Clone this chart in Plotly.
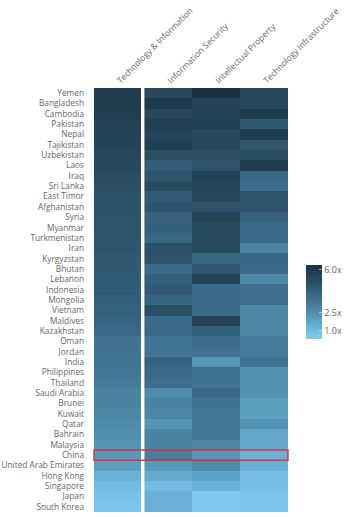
import plotly.graph_objects as go

countries = ["Yemen", "Bangladesh", "Cambodia", "Pakistan", "Nepal", "Tajikistan", "Uzbekistan",
             "Laos", "Iraq", "Sri Lanka", "East Timor", "Afghanistan", "Syria", "Myanmar",
             "Turkmenistan", "Iran", "Kyrgyzstan", "Bhutan", "Lebanon", "Indonesia", "Mongolia",
             "Vietnam", "Maldives", "Kazakhstan", "Oman", "Jordan", "India", "Philippines",
             "Thailand", "Saudi Arabia", "Brunei", "Kuwait", "Qatar", "Bahrain", "Malaysia",
             "China", "United Arab Emirates", "Hong Kong", "Singapore", "Japan", "South Korea"]

tech_info = [5.95, 5.9, 5.85, 5.6, 5.55, 5.5, 5.3, 5.25, 5.05, 5.0, 4.9, 4.85, 4.8, 4.8,
             4.75, 4.7, 4.6, 4.55, 4.5, 4.45, 4.3, 4.25, 4.1, 3.9, 3.5, 3.45, 3.4, 3.35,
             3.2, 2.95, 2.9, 2.75, 2.6, 2.45, 2.25, 2.1, 1.9, 1.3, 0.9, 0.7, 0.55]

info_security = [5.3, 6.0, 5.4, 5.8, 5.5, 5.7, 5.0, 4.4, 4.7, 5.1, 4.5, 4.7, 4.2, 4.3,
                 4.0, 4.9, 4.8, 3.8, 4.3, 4.5, 4.1, 5.0, 3.8, 3.9, 3.4, 3.4, 4.2, 3.9,
                 3.7, 2.6, 2.9, 2.8, 2.2, 2.9, 2.9, 3.1, 2.0, 1.5, 0.9, 1.3, 1.3]

intellectual_property = [6.4, 5.6, 5.6, 5.7, 5.2, 5.3, 5.0, 4.8, 5.6, 5.4, 5.3, 4.8, 5.5, 5.2,
                         5.2, 5.2, 4.0, 4.6, 5.6, 3.9, 3.9, 3.8, 5.5, 4.3, 3.7, 3.5, 2.2, 3.5,
                         3.5, 3.9, 3.5, 3.3, 3.3, 3.3, 2.8, 2.2, 2.6, 1.8, 1.3, 0.4, 0.4]

tech_infrastructure = [5.3, 5.3, 6.0, 4.6, 5.8, 4.7, 5.1, 5.9, 4.0, 3.8, 4.7, 4.8, 4.2, 3.9,
                       3.9, 2.9, 4.0, 3.8, 2.7, 3.6, 3.6, 2.8, 2.8, 2.8, 3.2, 3.2, 3.5, 2.3,
                       2.3, 2.3, 1.9, 1.9, 2.3, 1.6, 1.6, 1.3, 1.3, 0.8, 0.8, 0.6, 0.5]

col1_label = ["Technology & Information"]
other_labels = ["Information Security", "Intellectual Property", "Technology Infrastructure"]

cbar_ticks = [1.0, 2.5, 6.0]
cbar_text = ["1.0x", "2.5x", "6.0x"]
highlight = "China"

zmin, zmax = 0.3, 6.4
cscale = [[0, "#80cdf1"], [0.16, "#6ab2d8"], [0.31, "#5595b5"], [0.43, "#4a83a1"],
          [0.53, "#3f728e"], [0.66, "#33607a"], [0.74, "#2d5268"], [0.82, "#27485c"],
          [0.93, "#1f3b4d"], [1, "#1b3142"]]

font_fam = "Open Sans"
grey = "#666666"

fig = go.Figure()
fig.add_trace(go.Heatmap(
    z=[[v] for v in tech_info], x=col1_label, y=countries,
    colorscale=cscale, zmin=zmin, zmax=zmax, showscale=False,
    xaxis="x", yaxis="y", hoverongaps=False))
fig.add_trace(go.Heatmap(
    z=[list(r) for r in zip(info_security, intellectual_property, tech_infrastructure)],
    x=other_labels, y=countries,
    colorscale=cscale, zmin=zmin, zmax=zmax, showscale=True,
    xaxis="x2", yaxis="y",
    colorbar=dict(
        tickvals=cbar_ticks, ticktext=cbar_text, ticks="inside", ticklen=3,
        tickcolor="rgba(255,255,255,0.5)", tickfont=dict(family=font_fam, size=9, color=grey),
        thickness=16, len=74, lenmode="pixels", x=1.093, xanchor="left",
        y=0.495, yanchor="middle", outlinewidth=0, ypad=0, xpad=0)))

ci = countries.index(highlight)
fig.add_shape(type="rect", xref="paper", yref="y", x0=0, x1=1, y0=ci - 0.5, y1=ci + 0.5,
              line=dict(color="rgba(228,40,50,0.9)", width=1.5), fillcolor="rgba(0,0,0,0)")

axis_common = dict(side="top", tickangle=-45, showgrid=False, zeroline=False, ticks="",
                   tickfont=dict(family=font_fam, size=8.5, color=grey), fixedrange=True,
                   automargin=False)
fig.update_layout(
    width=350, height=517,
    margin=dict(l=94, r=62, t=88, b=5, autoexpand=False),
    paper_bgcolor="white", plot_bgcolor="white",
    xaxis=dict(domain=[0, 0.242], anchor="y", **axis_common),
    xaxis2=dict(domain=[0.259, 1], anchor="y", **axis_common),
    yaxis=dict(autorange="reversed", showgrid=False, zeroline=False, ticks="",
               tickmode="array", tickvals=countries, ticktext=countries, automargin=False,
               tickfont=dict(family=font_fam, size=8.3, color=grey), ticklabelstandoff=9),
    showlegend=False,
)
fig.write_html("out.html")
